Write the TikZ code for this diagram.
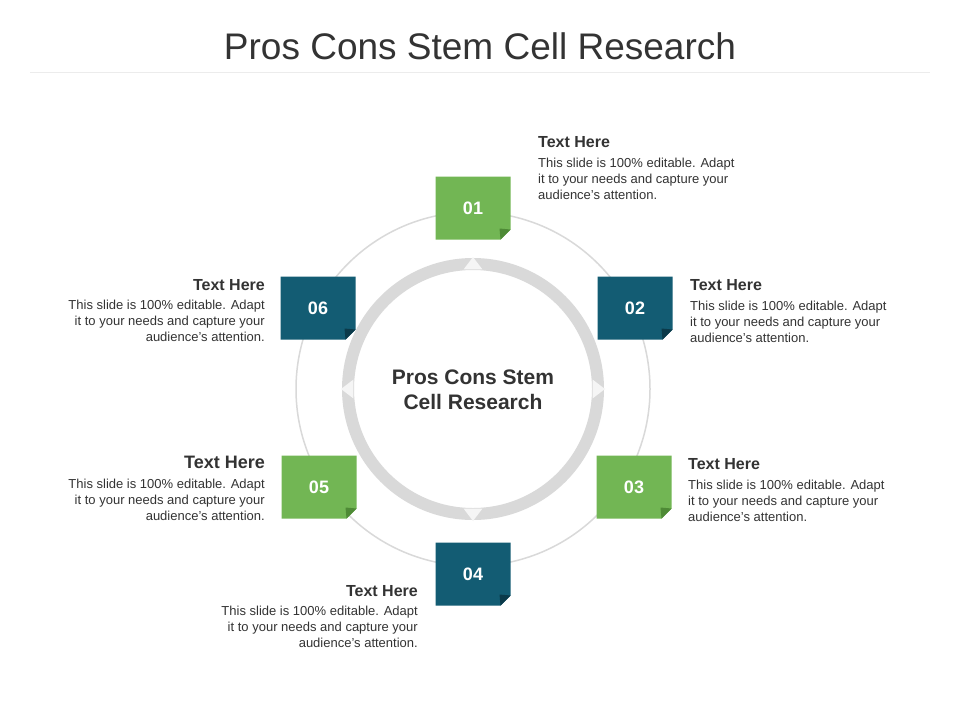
\documentclass[tikz,border=0pt]{standalone}
\usepackage{fontspec}
\usetikzlibrary{calc}
\setmainfont{Liberation Sans}
\definecolor{gr}{HTML}{72B654}
\definecolor{grd}{HTML}{4E8A36}
\definecolor{tl}{HTML}{135C73}
\definecolor{tld}{HTML}{0B3A4A}
\definecolor{tx}{HTML}{333333}
\begin{document}
\begin{tikzpicture}[x=1pt,y=-1pt,
  head/.style={font=\fontsize{16}{18}\selectfont\bfseries,text=tx,inner sep=0},
  body/.style={font=\fontsize{13}{16}\selectfont,text=tx,inner sep=0}]
\useasboundingbox (0,0) rectangle (960,720);
\fill[white] (0,0) rectangle (960,720);
\node (title) at (480,46) {\fontsize{37}{40}\selectfont\color{tx}Pros Cons Stem Cell Research};
\draw[gray!15] (30,72) -- (930,72);
\coordinate (c) at (473,389);
\draw[gray!30,line width=1.5] (c) circle (177);
\draw[gray!30,line width=12] (c) circle (125);
\foreach \a in {0,90,180,270}
  \fill[gray!8] ($(c)+(\a:132)$) -- ($(c)+(\a+4.5:120)$) -- ($(c)+(\a-4.5:120)$) -- cycle;
\node[font=\fontsize{21}{25}\selectfont\bfseries,text=tx,align=center] (ct) at (473,390) {Pros Cons Stem\\Cell Research};
\newcommand\bx[4]{%
  \fill[#2] (#1)++(-37.5,-31.5) -- ++(75,0) -- ++(0,53) -- ++(-10,10) -- ++(-65,0) -- cycle;
  \fill[#3] (#1)++(37.5,21.5) -- ++(-10,10) -- ++(-1,-11) -- cycle;
  \node[font=\fontsize{18}{20}\selectfont\bfseries,text=white] at (#1) {#4};}
\coordinate (b1) at (473,208); \coordinate (b2) at (635,308);
\coordinate (b3) at (634,487); \coordinate (b4) at (473,574);
\coordinate (b5) at (319,487); \coordinate (b6) at (318,308);
\bx{b1}{gr}{grd}{01}\bx{b2}{tl}{tld}{02}\bx{b3}{gr}{grd}{03}
\bx{b4}{tl}{tld}{04}\bx{b5}{gr}{grd}{05}\bx{b6}{tl}{tld}{06}
\newcommand\bodytext{This slide is 100\% editable. Adapt\\it to your needs and capture your\\audience's attention.}
\node[head,anchor=west] (h1) at (538,142) {Text Here};
\node[body,anchor=north west,align=left] at (538,158) {\bodytext};
\node[head,anchor=west] (h2) at (690,285) {Text Here};
\node[body,anchor=north west,align=left] at (690,301) {\bodytext};
\node[head,anchor=west] (h3) at (688,464) {Text Here};
\node[body,anchor=north west,align=left] at (688,480) {\bodytext};
\node[head,anchor=east] (h4) at (418,591) {Text Here};
\node[body,anchor=north east,align=right] at (418,606) {\bodytext};
\node[head,anchor=east,font=\fontsize{18}{20}\selectfont\bfseries] (h5) at (265,462) {Text Here};
\node[body,anchor=north east,align=right] at (265,479) {\bodytext};
\node[head,anchor=east] (h6) at (265,285) {Text Here};
\node[body,anchor=north east,align=right] at (265,300) {\bodytext};
\end{tikzpicture}
\end{document}
